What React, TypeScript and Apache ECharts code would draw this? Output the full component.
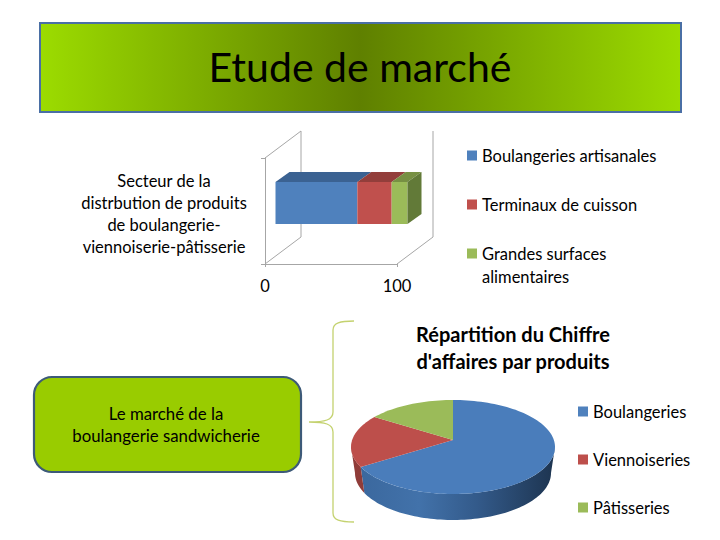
import React, { useEffect, useRef } from "react";
import * as echarts from "echarts";

const FONT = "Lato";
const mainTitle = "Etude de marché";
const barCategory = ["Secteur de la\ndistrbution de produits\nde boulangerie-\nviennoiserie-pâtisserie"];
const barNames = ["Boulangeries artisanales", "Terminaux de cuisson", "Grandes surfaces alimentaires"];
const barValues = [62, 26, 12];
const barAxisTicks = [0, 100];
const pieTitle = "Répartition du Chiffre\nd'affaires par produits";
const pieNames = ["Boulangeries", "Viennoiseries", "Pâtisseries"];
const pieValues = [68, 18, 14];
const calloutText = "Le marché de la\nboulangerie sandwicherie";

const barFront = ["#4f81bd", "#c0504d", "#9bbb59"];
const barTop = ["#3b6292", "#933e3b", "#779043"];
const barSide = ["#3b6292", "#933e3b", "#627a38"];

const BRACE = "M354 321 C340 321 333 323 333 330 L333 412 C333 420 325 422 309 422 C325 422 333 424 333 432 L333 513 C333 520 340 522 354 522";
echarts.graphic.registerShape("brace", echarts.graphic.extendPath(BRACE, {}) as any);

const WALL_DX = 36, WALL_DY = -27;
const pts = (...p: number[][]) => ({ points: p });

function wallItem(_p: any, api: any) {
  const o = api.coord([0, 0]);
  const size = api.size([100, 1]);
  const x0 = o[0], x1 = o[0] + size[0];
  const yb = o[1] + size[1] / 2, yt = o[1] - size[1] / 2;
  const style = { fill: "none", stroke: "#a6a6a6", lineWidth: 1 };
  const line = (p: number[][]) => ({ type: "polyline", shape: pts(...p), style });
  return {
    type: "group",
    children: [
      line([[x0, yb], [x0 + WALL_DX, yb + WALL_DY]]),
      line([[x1, yb], [x1 + WALL_DX, yb + WALL_DY], [x1 + WALL_DX, yt + WALL_DY]]),
      line([[x0, yt], [x0 + WALL_DX, yt + WALL_DY], [x0 + WALL_DX, yb + WALL_DY]]),
    ],
  };
}

const barItem = (index: number) => (_p: any, api: any) => {
  const a = api.coord([api.value(0), 0]);
  const b = api.coord([api.value(1), 0]);
  const ox = 10.5, oy = -8, h = 21, dx = 14, dy = -10;
  const xa = a[0] + ox, xb = b[0] + ox, t = a[1] + oy - h, u = a[1] + oy + h;
  const children: any[] = [
    { type: "polygon", shape: pts([xa, t], [xb, t], [xb + dx, t + dy], [xa + dx, t + dy]), style: { fill: barTop[index] } },
    { type: "rect", shape: { x: xa, y: t, width: xb - xa, height: u - t }, style: { fill: barFront[index] } },
  ];
  if (index === barValues.length - 1) {
    children.push({ type: "polygon", shape: pts([xb, t], [xb + dx, t + dy], [xb + dx, u + dy], [xb, u]), style: { fill: barSide[index] } });
  }
  return { type: "group", children };
};

const CX = 453, CY = 447, RX = 102, RY = 47, APEX_Y = 440, DEPTH = 26, RX_BOTTOM = 98;
const total = pieValues.reduce((s, v) => s + v, 0);
const ell = (deg: number, drop = 0, rx = RX) => {
  const r = (deg * Math.PI) / 180;
  return [CX + rx * Math.sin(r), CY - RY * Math.cos(r) + drop];
};
const arc = (a: number, b: number, drop = 0, rx = RX) => {
  const out: number[][] = [];
  const n = Math.max(2, Math.ceil(Math.abs(b - a) / 2));
  for (let i = 0; i <= n; i++) out.push(ell(a + ((b - a) * i) / n, drop, rx));
  return out;
};
const sideFills: any[] = [
  new echarts.graphic.LinearGradient(0, 0, 1, 0, [
    { offset: 0, color: "#3b689e" },
    { offset: 0.3, color: "#4272aa" },
    { offset: 0.6, color: "#335a8a" },
    { offset: 1, color: "#1d3450" },
  ]),
  "#8f3c39",
  "#779043",
];
const pieTop = ["#4a7dbb", "#bd4f4b", "#9bbb59"];

const pieItem = (index: number) => (_p: any, api: any) => {
  const start = (api.value(0) / total) * 360;
  const end = (api.value(1) / total) * 360;
  const children: any[] = [];
  const sa = Math.max(start, 90), sb = Math.min(end, 270);
  if (sb > sa) {
    children.push({
      type: "polygon",
      z2: 1,
      shape: { points: [...arc(sa, sb), ...arc(sb, sa, DEPTH, RX_BOTTOM)] },
      style: { fill: sideFills[index] },
    });
  }
  children.push({
    type: "polygon",
    z2: 2,
    shape: { points: [[CX, APEX_Y], ...arc(start, end)] },
    style: { fill: pieTop[index] },
  });
  return { type: "group", children };
};

function cumulative(values: number[]) {
  let s = 0;
  return values.map((v) => {
    const row = [s, s + v, 0];
    s += v;
    return row;
  });
}

const header = (text: string, left: number, top: number, size: number, lineHeight: number, bold = false) => ({
  text,
  left,
  top,
  textAlign: "center",
  textStyle: { fontFamily: FONT, fontSize: size, fontWeight: bold ? "bold" : "normal", color: "#000", lineHeight },
});

export default function App() {
  const ref = useRef<HTMLDivElement>(null);
  useEffect(() => {
    const chart = echarts.init(ref.current!, undefined, { renderer: "svg" });
    const barRows = cumulative(barValues);
    const pieRows = cumulative(pieValues);
    const legendText = { fontFamily: FONT, fontSize: 16.5, color: "#000" };
    chart.setOption({
      animation: false,
      backgroundColor: "#fff",
      title: [header(mainTitle, 355, 31, 41, 60), header(pieTitle, 508, 315, 20, 27, true)],
      grid: { left: 265, top: 158, width: 132, height: 106 },
      xAxis: {
        type: "value",
        min: barAxisTicks[0],
        max: barAxisTicks[1],
        interval: 100,
        splitLine: { show: false },
        axisLine: { show: true, lineStyle: { color: "#a6a6a6" } },
        axisTick: { show: true, length: 3, lineStyle: { color: "#a6a6a6" } },
        axisLabel: { fontFamily: FONT, fontSize: 16.5, color: "#000", margin: 13, showMinLabel: true, showMaxLabel: true },
      },
      yAxis: {
        type: "category",
        data: barCategory,
        axisLine: { show: true, lineStyle: { color: "#a6a6a6" } },
        axisTick: { show: true, length: 4, lineStyle: { color: "#a6a6a6" } },
        axisLabel: {
          color: "#000",
          align: "center",
          margin: 101,
          formatter: (v: string) => "{s| }\n" + v.split("\n").map((l) => `{t|${l}}`).join("\n"),
          rich: {
            s: { fontSize: 1, lineHeight: 6, height: 6 },
            t: { fontFamily: FONT, fontSize: 16.5, lineHeight: 22, color: "#000", align: "center" },
          },
        },
      },
      legend: [
        {
          orient: "vertical",
          left: 462,
          top: 142,
          itemWidth: 10,
          itemHeight: 10,
          itemGap: 32,
          icon: "rect",
          data: barNames,
          textStyle: legendText,
          formatter: (n: string) => n.replace(" alimentaires", ""),
        },
        {
          orient: "vertical",
          left: 573,
          top: 398,
          itemWidth: 10,
          itemHeight: 10,
          itemGap: 31,
          icon: "rect",
          data: pieNames,
          textStyle: legendText,
        },
      ],
      graphic: [
        {
          type: "rect",
          z: -2,
          shape: { x: 40, y: 23, width: 641, height: 89 },
          style: {
            stroke: "#4a6fa5",
            lineWidth: 2,
            fill: new echarts.graphic.LinearGradient(0, 0, 1, 0, [
              { offset: 0, color: "#9cdc00" },
              { offset: 0.5, color: "#5f8000" },
              { offset: 1, color: "#9cdc00" },
            ]),
          },
        },
        {
          type: "rect",
          shape: { x: 34, y: 377, width: 267, height: 95, r: 18 },
          style: { fill: "#99cc00", stroke: "#3d5a78", lineWidth: 2.2 },
        },
        {
          type: "text",
          x: 166,
          y: 424,
          style: { text: calloutText, font: `16.8px ${FONT}`, fill: "#000", align: "center", verticalAlign: "middle", lineHeight: 22 },
        },
        { type: "brace", style: { fill: "none", stroke: "#c4d26f", lineWidth: 1.3 } },
        {
          type: "text",
          x: 482,
          y: 277,
          style: { text: "alimentaires", font: `16.5px ${FONT}`, fill: "#000", verticalAlign: "middle" },
        },
      ],
      series: [
        { type: "custom", name: "walls", silent: true, z: 1, data: [[0, 100, 0]], renderItem: wallItem, encode: { x: [0, 1], y: 2 } },
        ...barNames.map((name, i) => ({
          type: "custom",
          name,
          z: 2,
          itemStyle: { color: barFront[i] },
          data: [barRows[i]],
          renderItem: barItem(i),
          encode: { x: [0, 1], y: 2 },
        })),
        ...pieNames.map((name, i) => ({
          type: "custom",
          name,
          coordinateSystem: "none",
          z: 3,
          itemStyle: { color: pieTop[i] === "#4a7dbb" ? "#4f81bd" : pieTop[i] },
          data: [pieRows[i]],
          renderItem: pieItem(i),
        })),
      ],
    });
    return () => chart.dispose();
  }, []);
  return <div ref={ref} style={{ position: "absolute", left: 0, top: 0, width: 720, height: 540 }} />;
}
